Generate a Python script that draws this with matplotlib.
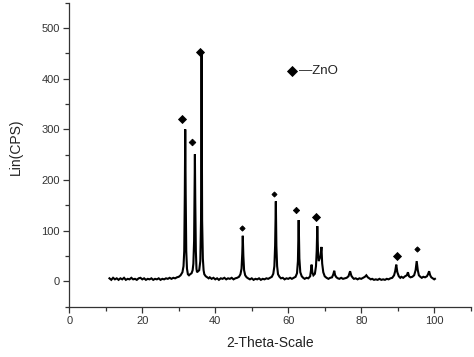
import matplotlib
matplotlib.use("Agg")
import matplotlib.pyplot as plt
from matplotlib.ticker import MultipleLocator

plt.rcParams['font.family'] = ['Liberation Sans', 'DejaVu Sans']

# ---- data ----
two_theta = [
    11.0, 11.5, 12.0, 12.5, 13.0, 13.5, 14.0, 14.5, 15.0, 15.5, 16.0, 16.5, 17.0, 17.5,
    18.0, 18.5, 19.0, 19.5, 20.0, 20.5, 21.0, 21.5, 22.0, 22.5, 23.0, 23.5, 24.0, 24.5,
    25.0, 25.5, 26.0, 26.5, 27.0, 27.5, 28.0, 28.5, 29.0, 29.5, 30.0, 30.5,
    31.0, 31.3, 31.5, 31.65, 31.77, 31.9, 32.05, 32.25, 32.5, 32.8, 33.1, 33.5, 33.8,
    34.0, 34.2, 34.33, 34.42, 34.52, 34.68, 34.85, 35.0, 35.3, 35.6, 35.9, 36.1, 36.25,
    36.4, 36.6, 36.8, 37.0, 37.4, 37.8, 38.2, 38.5,
    39.0, 39.5, 40.0, 40.5, 41.0, 41.5, 42.0, 42.5, 43.0, 43.5, 44.0, 44.5, 45.0, 45.5,
    46.0, 46.5, 46.9, 47.2, 47.4, 47.54, 47.7, 47.9, 48.2, 48.6, 49.0, 49.5, 50.0, 50.5,
    51.0, 51.5, 52.0, 52.5, 53.0, 53.5, 54.0, 54.5, 55.0, 55.5, 55.9, 56.2, 56.4, 56.6,
    56.75, 56.95, 57.2, 57.6, 58.0, 58.5, 59.0, 59.5, 60.0, 60.5, 61.0, 61.5, 62.0, 62.4,
    62.65, 62.86, 63.05, 63.3, 63.7, 64.1, 64.5, 65.0, 65.5, 66.0, 66.2, 66.4, 66.6, 66.9,
    67.3, 67.6, 67.8, 67.96, 68.15, 68.35, 68.6, 68.85, 69.1, 69.3, 69.6, 70.0, 70.5,
    71.0, 71.5, 72.0, 72.35, 72.6, 72.85, 73.2, 73.6, 74.0, 74.5, 75.0, 75.5, 76.0, 76.5,
    76.95, 77.3, 77.7, 78.0, 78.5, 79.0, 79.5, 80.0, 80.5, 81.0, 81.4, 81.8, 82.2, 82.6,
    83.0, 83.5, 84.0, 84.5, 85.0, 85.5, 86.0, 86.5, 87.0, 87.5, 88.0, 88.5, 89.0, 89.3,
    89.6, 89.9, 90.3, 90.7, 91.0, 91.5, 92.0, 92.5, 92.8, 93.1, 93.5, 94.0, 94.5, 94.9,
    95.2, 95.5, 95.8, 96.2, 96.6, 97.0, 97.5, 98.0, 98.3, 98.6, 98.9, 99.2, 99.6, 100.0,
    100.2,
]
intensity = [
    6, 3, 7, 4, 6, 3, 6, 4, 7, 3, 5, 4, 7, 4,
    5, 3, 6, 7, 4, 6, 3, 5, 4, 6, 3, 5, 4, 6,
    3, 5, 4, 6, 5, 7, 5, 7, 6, 8, 9, 12,
    18, 30, 60, 170, 300, 170, 60, 25, 14, 12, 14, 16, 22,
    35, 80, 170, 251, 160, 60, 25, 18, 20, 22, 40, 120, 455,
    120, 45, 22, 14, 10, 8, 6, 8,
    5, 7, 4, 6, 3, 6, 5, 7, 4, 6, 5, 7, 4, 6,
    7, 9, 14, 25, 55, 90, 50, 22, 12, 8, 6, 4, 6, 3,
    5, 4, 6, 3, 5, 4, 6, 5, 7, 9, 15, 30, 70, 158,
    70, 30, 14, 9, 6, 7, 4, 6, 5, 7, 5, 7, 9, 16,
    40, 121, 45, 18, 10, 7, 5, 7, 6, 10, 20, 33, 18, 12,
    15, 30, 60, 109, 60, 40, 45, 50, 68, 35, 18, 10, 7,
    5, 7, 8, 14, 21, 12, 8, 6, 5, 7, 5, 6, 7, 10,
    20, 11, 7, 5, 6, 4, 6, 5, 7, 9, 12, 8, 6, 4,
    5, 3, 4, 3, 5, 3, 4, 3, 5, 4, 6, 7, 12, 20,
    33, 18, 10, 7, 9, 7, 10, 12, 18, 10, 8, 9, 12, 22,
    40, 22, 12, 9, 7, 9, 8, 10, 14, 20, 12, 8, 6, 4,
    5,
]

# ZnO peak markers (diamonds)
marker_theta = [30.8, 33.5, 35.8, 47.2, 56.1, 62.0, 67.6, 89.7, 95.2]
marker_cps = [320, 275, 453, 105, 172, 140, 128, 51, 64]
legend_label = "\u2014ZnO"

x_ticks = [0, 20, 40, 60, 80, 100]
y_ticks = [0, 100, 200, 300, 400, 500]

# ---- styling ----
marker_sizes = [4.3, 3.4, 4.5, 2.7, 2.6, 3.2, 3.8, 3.8, 2.7]

fig = plt.figure(figsize=(4.74, 3.57), dpi=100)
ax = fig.add_axes([69.3 / 474, 1 - 306.7 / 357, (470.7 - 69.3) / 474, (306.7 - 2.7) / 357])

ax.plot(two_theta, intensity, color='black', lw=1.5, solid_joinstyle='miter')
for xm, ym, ms in zip(marker_theta, marker_cps, marker_sizes):
    ax.plot([xm], [ym], marker='D', color='black', ms=ms, mew=0.6, linestyle='none')

# legend-like annotation
ax.plot([61.0], [415], marker='D', color='black', ms=5.4, mew=0.6, linestyle='none')
ax.text(63.0, 415, legend_label, fontsize=9.5, color='#222222', va='center', ha='left')

ax.set_xlim(0, 110)
ax.set_ylim(-50, 550)
ax.set_xticks(x_ticks)
ax.set_yticks(y_ticks)
ax.xaxis.set_minor_locator(MultipleLocator(10))
ax.yaxis.set_minor_locator(MultipleLocator(50))

for s in ['top', 'right']:
    ax.spines[s].set_visible(False)
for s in ['left', 'bottom']:
    ax.spines[s].set_color('#333333')
    ax.spines[s].set_linewidth(0.9)

ax.tick_params(which='major', direction='out', length=4.3, width=0.9, color='#333333',
               labelsize=8, labelcolor='#333333', pad=2.5)
ax.tick_params(which='minor', direction='out', length=2.8, width=0.9, color='#333333')

fig.text(270 / 474, 1 - 343 / 357, "2-Theta-Scale", fontsize=10, color='#222222',
         ha='center', va='center')
fig.text(16 / 474, 1 - 147 / 357, "Lin(CPS)", fontsize=10, color='#222222',
         ha='center', va='center', rotation=90)

fig.savefig("out.png", dpi=100)
